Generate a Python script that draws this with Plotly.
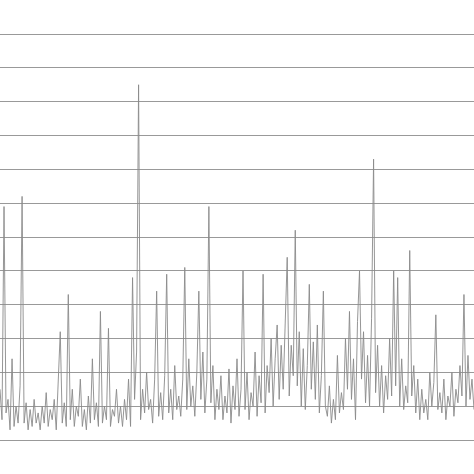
import plotly.graph_objects as go

values = [
1.5,0.6,6.9,0.8,1.2,0.3,2.4,0.4,1.0,0.5,
1.6,7.2,0.5,1.1,0.3,0.9,0.4,1.2,0.5,0.8,
0.3,1.0,0.5,1.4,0.4,0.9,0.6,1.2,0.3,2.0,
3.2,0.5,1.1,0.4,4.3,0.6,1.5,0.4,1.0,0.7,
1.8,0.4,0.9,0.3,1.3,0.5,2.4,0.6,1.1,0.4,
3.8,0.5,1.0,0.6,3.3,0.4,0.9,0.7,1.5,0.5,
1.0,0.4,1.2,0.6,1.8,0.4,4.8,1.2,2.6,10.5,
0.6,1.5,0.8,2.0,0.9,1.2,0.5,1.8,4.4,0.7,
1.4,0.6,1.9,4.9,0.8,1.5,0.6,2.2,0.9,1.3,
0.7,1.8,5.1,0.9,2.4,1.0,1.6,0.7,2.0,4.4,
1.2,2.6,0.8,1.8,6.9,1.1,2.2,0.6,1.5,0.9,
1.9,0.6,1.3,0.8,2.1,0.5,1.6,0.9,2.4,0.7,
1.5,5.0,0.9,2.0,0.6,1.4,1.0,2.6,0.7,1.9,
1.1,4.9,0.8,2.2,1.4,3.0,1.0,2.4,3.4,1.2,
2.8,1.5,3.6,5.4,1.3,2.8,1.9,6.2,1.6,3.2,
1.0,2.7,0.9,2.2,4.6,1.5,2.9,1.2,3.4,0.8,
1.9,4.4,1.0,0.7,1.6,0.5,1.2,0.6,2.5,0.8,
1.4,0.9,3.0,1.5,3.8,1.2,2.4,0.6,3.5,5.0,
1.8,3.2,1.1,2.5,1.0,3.6,8.3,1.4,2.8,1.0,
2.2,0.8,1.9,1.2,3.0,1.3,5.0,1.6,4.8,1.0,
2.4,0.9,1.6,1.1,5.6,1.3,2.2,0.8,1.8,0.6,
1.5,0.8,1.2,0.6,2.0,1.0,1.7,3.7,0.9,1.4,
0.8,1.8,0.6,1.3,1.0,2.0,0.7,1.5,1.1,2.2,
1.3,4.3,1.0,2.5,1.2,1.8,0.9,
]
x = list(range(len(values)))

fig = go.Figure(go.Scatter(x=x, y=values, mode="lines",
                           line=dict(color="#8a8a8a", width=0.9), hoverinfo="skip"))
fig.update_layout(
    width=474, height=474, margin=dict(l=0, r=0, t=0, b=0),
    paper_bgcolor="white", plot_bgcolor="white", showlegend=False,
    xaxis=dict(range=[0, len(values) - 1], showgrid=False, showticklabels=False, zeroline=False),
    yaxis=dict(range=[-1.005, 13.005], tick0=0, dtick=1, showgrid=True,
               gridcolor="#999999", gridwidth=1.3, showticklabels=False, zeroline=False),
)
fig.write_html("out.html", config={"displayModeBar": False})
with open("out.html", encoding="utf-8") as f:
    html = f.read()
html = html.replace("<body>", "<body style=\"margin:0\">", 1)
with open("out.html", "w", encoding="utf-8") as f:
    f.write(html)
